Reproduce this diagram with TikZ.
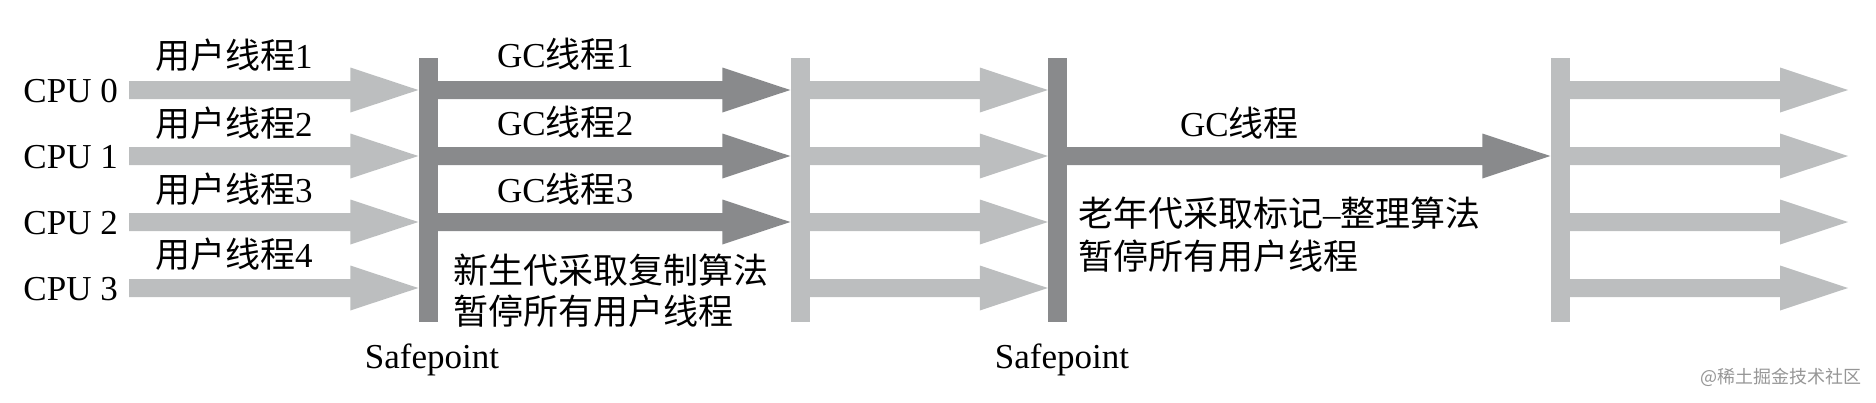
\documentclass[tikz,border=0pt]{standalone}
\usepackage{fontspec}
\setmainfont{Liberation Serif}
\newfontfamily\cjk{Noto Sans CJK SC}
\usetikzlibrary{calc}
\definecolor{lightg}{RGB}{188,190,191}
\definecolor{darkg}{RGB}{137,138,140}
\definecolor{wmark}{RGB}{150,150,150}
\begin{document}
\begin{tikzpicture}[x=1pt,y=-1pt,font=\fontsize{35}{40}\selectfont,
  bar/.style={fill=#1,draw=none,minimum width=19pt,minimum height=264pt,inner sep=0pt},
  thr/.style={fill=#1,draw=none,to path={
    let \p1=(\tikztostart), \p2=(\tikztotarget) in
    (\x1,\y1-9pt) -- (\x2-68pt,\y1-9pt) -- (\x2-68pt,\y1-22.5pt) -- (\x2,\y1)
    -- (\x2-68pt,\y1+22.5pt) -- (\x2-68pt,\y1+9pt) -- (\x1,\y1+9pt) -- cycle}},
  lbl/.style={inner sep=0pt,anchor=base west},
]
\useasboundingbox (0,0) rectangle (1876,402);
% safepoint / phase bars
\node[bar=darkg]  (b1) at (428,190) {};
\node[bar=lightg] (b2) at (800,190) {};
\node[bar=darkg]  (b3) at (1057.5,190) {};
\node[bar=lightg] (b4) at (1560,190) {};
% row coordinates
\foreach \i/\y in {0/90,1/156,2/222,3/288}{
  \coordinate (s\i) at (129,\y);
  \coordinate (e\i) at (1848,\y);
}
% user threads before first safepoint
\foreach \i in {0,1,2,3}{
  \path[thr=lightg] (s\i) to (b1.west |- s\i);
}
% GC threads (young generation)
\foreach \i in {0,1,2}{
  \path[thr=darkg] (b1.east |- s\i) to (b2.west |- s\i);
}
% user threads between
\foreach \i in {0,1,2,3}{
  \path[thr=lightg] (b2.east |- s\i) to (b3.west |- s\i);
}
% single GC thread (old generation)
\path[thr=darkg] (b3.east |- s1) to (b4.west |- s1);
% user threads after
\foreach \i in {0,1,2,3}{
  \path[thr=lightg] (b4.east |- s\i) to (e\i);
}
% CPU labels
\node[inner sep=0pt,anchor=base east] (c0) at (118,102) {CPU 0};
\node[inner sep=0pt,anchor=base east] (c1) at (118,168) {CPU 1};
\node[inner sep=0pt,anchor=base east] (c2) at (118,234) {CPU 2};
\node[inner sep=0pt,anchor=base east] (c3) at (118,300) {CPU 3};
% user thread labels
\node[lbl] (u1) at (155,68) {{\cjk 用户线程}1};
\node[lbl] (u2) at (155,136) {{\cjk 用户线程}2};
\node[lbl] (u3) at (155,202) {{\cjk 用户线程}3};
\node[lbl] (u4) at (155,267) {{\cjk 用户线程}4};
% GC labels
\node[lbl] (g1) at (497,67) {GC{\cjk 线程}1};
\node[lbl] (g2) at (497,135) {GC{\cjk 线程}2};
\node[lbl] (g3) at (497,202) {GC{\cjk 线程}3};
\node[lbl] (g4) at (1180,136) {GC{\cjk 线程}};
% descriptions
\node[lbl] (d1a) at (453,283) {\cjk 新生代采取复制算法};
\node[lbl] (d1b) at (453,324) {\cjk 暂停所有用户线程};
\node[lbl] (d2a) at (1078,226) {{\cjk 老年代采取标记}–{\cjk 整理算法}};
\node[lbl] (d2b) at (1078,269) {\cjk 暂停所有用户线程};
% safepoint labels
\node[inner sep=0pt,anchor=base] (sp1) at (432,368) {Safepoint};
\node[inner sep=0pt,anchor=base] (sp2) at (1062,368) {Safepoint};
% watermark
\node[inner sep=0pt,anchor=base east,text=wmark,font=\fontsize{18}{20}\selectfont] (wm) at (1862,383) {\cjk @稀土掘金技术社区};
\end{tikzpicture}
\end{document}
